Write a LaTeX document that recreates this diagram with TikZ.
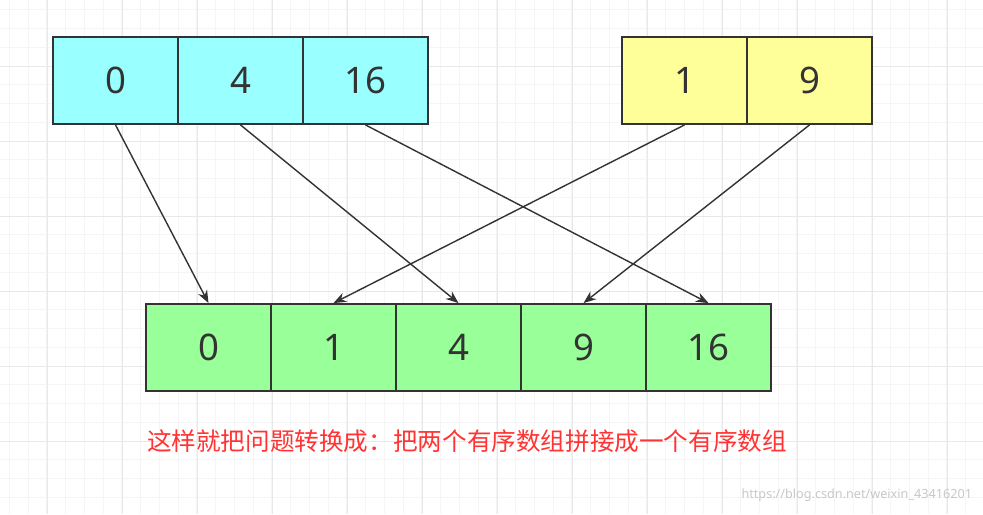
\documentclass[tikz,border=0pt]{standalone}
\usepackage{fontspec}
\setmainfont{Noto Sans}
\newfontfamily\cjk{Noto Sans CJK SC}
\usetikzlibrary{arrows.meta}
\definecolor{cyancell}{HTML}{99FFFF}
\definecolor{yellowcell}{HTML}{FFFF99}
\definecolor{greencell}{HTML}{99FF99}
\definecolor{edgegray}{HTML}{333333}
\tikzset{
  cell/.style={draw=edgegray, line width=1.3pt, minimum width=3.125cm, minimum height=2.175cm, inner sep=0pt, font=\fontsize{26}{30}\selectfont, text=edgegray},
  link/.style={draw=edgegray, line width=1pt, -{Stealth[length=9pt,width=7pt]}}
}
\begin{document}
\begin{tikzpicture}[x=0.025cm,y=-0.025cm]
\useasboundingbox (0,0) rectangle (983,514);
% grid
\foreach \gx in {-9.5,9.25,...,983} \draw[black!4, line width=0.5pt] (\gx,0) -- (\gx,514);
\foreach \gy in {-9,9.75,...,514} \draw[black!4, line width=0.5pt] (0,\gy) -- (983,\gy);
\foreach \gx in {47,122,...,983} \draw[black!9, line width=0.6pt] (\gx,0) -- (\gx,514);
\foreach \gy in {66,141,...,514} \draw[black!9, line width=0.6pt] (0,\gy) -- (983,\gy);
% first array
\node[cell, fill=cyancell] (a0) at (115.5,80.5) {0};
\node[cell, fill=cyancell] (a1) at (240.5,80.5) {4};
\node[cell, fill=cyancell] (a2) at (365.5,80.5) {16};
% second array
\node[cell, fill=yellowcell] (b0) at (684.5,80.5) {1};
\node[cell, fill=yellowcell] (b1) at (809.5,80.5) {9};
% merged array
\node[cell, fill=greencell] (c0) at (208.5,347.5) {0};
\node[cell, fill=greencell] (c1) at (333.5,347.5) {1};
\node[cell, fill=greencell] (c2) at (458.5,347.5) {4};
\node[cell, fill=greencell] (c3) at (583.5,347.5) {9};
\node[cell, fill=greencell] (c4) at (708.5,347.5) {16};
% arrows
\draw[link] (a0.south) -- (c0.north);
\draw[link] (a1.south) -- (c2.north);
\draw[link] (a2.south) -- (c4.north);
\draw[link] (b0.south) -- (c1.north);
\draw[link] (b1.south) -- (c3.north);
% caption
\node[text={rgb,255:red,255;green,51;blue,51}, font=\cjk\fontsize{17.5}{20}\selectfont] (note) at (467,441) {这样就把问题转换成：把两个有序数组拼接成一个有序数组};
\node[text=black!22, font=\fontsize{9}{10}\selectfont, anchor=east] (mark) at (977,495) {https://blog.csdn.net/weixin\_43416201};
\end{tikzpicture}
\end{document}
